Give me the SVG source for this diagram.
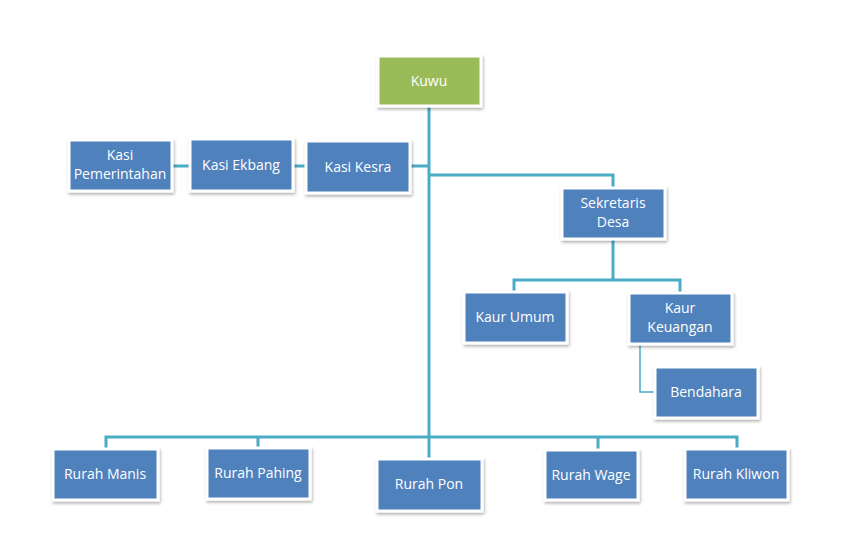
<svg xmlns="http://www.w3.org/2000/svg" width="845" height="545" viewBox="0 0 845 545">
<defs>
<filter id="sh" x="-10%" y="-10%" width="130%" height="140%"><feDropShadow dx="1" dy="2" stdDeviation="1.5" flood-color="#000" flood-opacity="0.3"/></filter>
<style>
.b{fill:#4f81bd;stroke:#fff;stroke-width:3;filter:url(#sh)}
.g{fill:#9bbb59;stroke:#fff;stroke-width:3;filter:url(#sh)}
.t{fill:#fff;font-family:"Open Sans","Liberation Sans",sans-serif;font-size:14px;text-anchor:middle}
.c{fill:none;stroke:#4bacc6;stroke-width:3}
.c1{fill:none;stroke:#4bacc6;stroke-width:1.5}
</style>
</defs>
<rect width="845" height="545" fill="#fff"/>
<g id="connectors">
<path class="c" d="M429 105V460M409 166H429M429 175H613V189M292 166H307M171 166H191"/>
<path class="c" d="M613 238V280M514 293V280H680V294"/>
<path class="c1" d="M640 343V392H656"/>
<path class="c" d="M106 450V437H737V450M258 449V437M598 451V437"/>
</g>
<g id="kuwu"><rect class="g" x="378" y="56" width="103" height="50"/><text class="t" x="429" y="86" font-size="16">Kuwu</text></g>
<g id="kasi-pemerintahan"><rect class="b" x="69" y="140" width="103" height="51"/><text class="t" x="120" y="160">Kasi</text><text class="t" x="120" y="179">Pemerintahan</text></g>
<g id="kasi-ekbang"><rect class="b" x="190" y="139" width="103" height="52"/><text class="t" x="241" y="170">Kasi Ekbang</text></g>
<g id="kasi-kesra"><rect class="b" x="306" y="141" width="104" height="52"/><text class="t" x="358" y="172">Kasi Kesra</text></g>
<g id="sekretaris"><rect class="b" x="562" y="188" width="103" height="51"/><text class="t" x="613" y="208">Sekretaris</text><text class="t" x="613" y="227">Desa</text></g>
<g id="kaur-umum"><rect class="b" x="464" y="292" width="103" height="51"/><text class="t" x="515" y="322">Kaur Umum</text></g>
<g id="kaur-keuangan"><rect class="b" x="629" y="293" width="103" height="51"/><text class="t" x="680" y="313">Kaur</text><text class="t" x="680" y="332">Keuangan</text></g>
<g id="bendahara"><rect class="b" x="655" y="367" width="103" height="51"/><text class="t" x="706" y="397">Bendahara</text></g>
<g id="rurah-manis"><rect class="b" x="53" y="449" width="105" height="51"/><text class="t" x="105" y="479">Rurah Manis</text></g>
<g id="rurah-pahing"><rect class="b" x="207" y="448" width="103" height="51"/><text class="t" x="258" y="478">Rurah Pahing</text></g>
<g id="rurah-pon"><rect class="b" x="377" y="459" width="105" height="52"/><text class="t" x="429" y="489">Rurah Pon</text></g>
<g id="rurah-wage"><rect class="b" x="545" y="450" width="93" height="50"/><text class="t" x="591" y="480">Rurah Wage</text></g>
<g id="rurah-kliwon"><rect class="b" x="685" y="449" width="103" height="51"/><text class="t" x="736" y="479">Rurah Kliwon</text></g>
</svg>
